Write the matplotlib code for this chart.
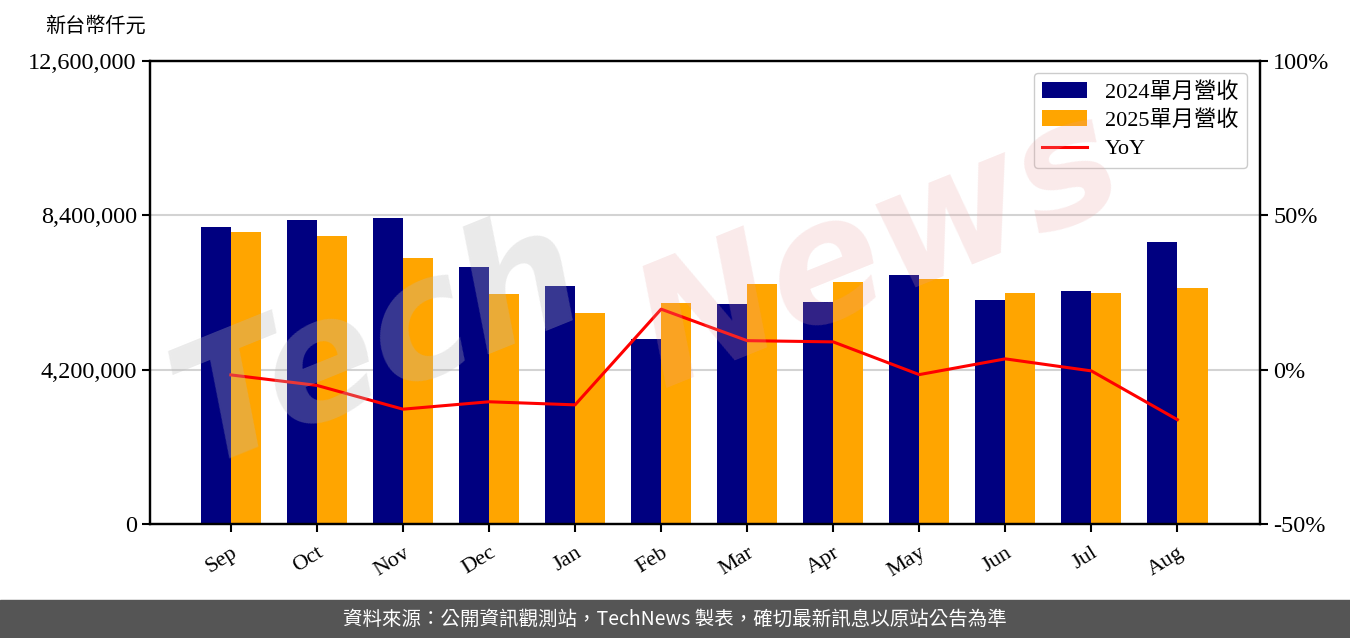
import matplotlib
matplotlib.use("Agg")
import matplotlib.pyplot as plt
import numpy as np
from matplotlib.patches import Rectangle

plt.rcParams['font.family'] = ['Liberation Serif', 'Noto Sans CJK TC', 'DejaVu Sans']

months = ['Sep', 'Oct', 'Nov', 'Dec', 'Jan', 'Feb', 'Mar', 'Apr', 'May', 'Jun', 'Jul', 'Aug']
rev_2024 = [8080000, 8270000, 8330000, 6990000, 6480000, 5030000, 5990000, 6040000, 6780000, 6100000, 6340000, 7670000]
rev_2025 = [7950000, 7840000, 7240000, 6260000, 5740000, 6010000, 6530000, 6590000, 6670000, 6290000, 6290000, 6420000]
yoy = [-1.7, -5.1, -12.8, -10.4, -11.4, 19.6, 9.4, 9.0, -1.6, 3.5, -0.4, -16.2]
left_ticks = [0, 4200000, 8400000, 12600000]
right_ticks = [-50, 0, 50, 100]

fig = plt.figure(figsize=(13.5, 6.38), dpi=100)
ax = fig.add_axes([150/1350, 1-524/638, 1110/1350, 463/638])

x = np.arange(len(months))
w = 0.35
ax.bar(x - w/2, rev_2024, w, color='#000080', label='2024單月營收', zorder=2)
ax.bar(x + w/2, rev_2025, w, color='#FFA500', label='2025單月營收', zorder=2)
ax.set_ylim(0, 12600000)
ax.set_xlim(-0.94, 11.96)
ax.set_yticks(left_ticks)
ax.set_yticklabels([f'{v:,}' for v in left_ticks], fontsize=17.5)
ax.set_xticks(x)
ax.set_xticklabels(months, rotation=32, ha='right', fontsize=16, rotation_mode='anchor')
for t in [4200000, 8400000]:
    ax.axhline(t, color='#d3d3d3', lw=1.5, zorder=1)
for s in ax.spines.values():
    s.set_linewidth(1.6)
ax.tick_params(axis='both', width=1.5, length=6)
ax.tick_params(axis='x', pad=8)

ax2 = ax.twinx()
ax2.plot(x, yoy, color='#FF0000', lw=2.2, label='YoY', zorder=3)
ax2.set_ylim(-50, 100)
ax2.set_yticks(right_ticks)
ax2.set_yticklabels([f'{v}%' for v in right_ticks], fontsize=17.5)
ax2.tick_params(axis='y', width=1.5, length=6)
for s in ax2.spines.values():
    s.set_linewidth(1.6)

h1, l1 = ax.get_legend_handles_labels()
h2, l2 = ax2.get_legend_handles_labels()
leg = ax2.legend(h1 + h2, l1 + l2, loc='upper right', fontsize=16, framealpha=1,
                 edgecolor='#cccccc', handlelength=2.0, borderpad=0.4,
                 labelspacing=0.35, borderaxespad=0,
                 bbox_to_anchor=((1247-150)/1110, (524-73)/463))

fig.text(45/1350, 1-27/638, '新台幣仟元', fontsize=14.5, va='center', ha='left')

# watermark
fig.text(380/1350, 1-345/638, 'Tech', fontsize=120, rotation=22, color='#bbbbbb',
         alpha=0.3, ha='center', va='center', style='italic', weight='bold',
         family='DejaVu Sans', zorder=10)
fig.text(880/1350, 1-250/638, 'News', fontsize=120, rotation=22, color='#e8a0a0',
         alpha=0.22, ha='center', va='center', style='italic', weight='bold',
         family='DejaVu Sans', zorder=10)

# footer
fig.patches.append(Rectangle((0, 0), 1, 38/638, transform=fig.transFigure,
                             color='#555555', zorder=0))
fig.text(0.5, 19/638, '資料來源：公開資訊觀測站，TechNews 製表，確切最新訊息以原站公告為準',
         color='white', fontsize=14, ha='center', va='center',
         family=['Noto Sans CJK TC', 'DejaVu Sans'])

fig.savefig('out.png', dpi=100)
